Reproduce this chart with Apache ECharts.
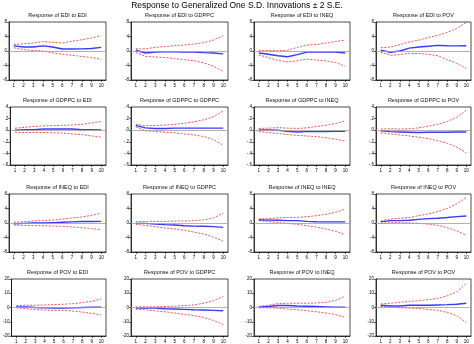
<!DOCTYPE html>
<html>
<head>
<meta charset="utf-8">
<script src="https://cdn.jsdelivr.net/npm/echarts@6/dist/echarts.min.js"></script>
<style>
  html, body { margin: 0; padding: 0; background: #fff; }
  #chart { width: 474px; height: 344px; }
</style>
</head>
<body>
<div id="chart"></div>
<script>
// Horizon (periods after the shock)
const periods = ['1', '2', '3', '4', '5', '6', '7', '8', '9', '10'];

// Variable names, in row / column order
const variables = ['EDI', 'GDPPC', 'INEQ', 'POV'];

// Y-axis scale per response row: [min, max, interval] and tick labels
const rowScale = [[-8, 8, 4], [-0.6, 0.4, 0.2], [-8, 8, 4], [-20, 20, 10]];
const tickLabelsEDI = { '8': '8', '4': '4', '0': '0', '-4': '-4', '-8': '-8' };
const tickLabelsGDPPC = { '0.4': '.4', '0.2': '.2', '0': '.0', '-0.2': '-.2', '-0.4': '-.4', '-0.6': '-.6' };
const tickLabelsINEQ = { '8': '8', '4': '4', '0': '0', '-4': '-4', '-8': '-8' };
const tickLabelsPOV = { '20': '20', '10': '10', '0': '0', '-10': '-10', '-20': '-20' };

// Response of EDI
const ediToEdi = [1.4, 1.1, 1.1, 1.4, 1.1, 0.55, 0.55, 0.6, 0.7, 1.0];
const ediToEdiUp = [1.8, 2.0, 2.2, 2.6, 2.4, 2.2, 2.7, 3.1, 3.6, 4.2];
const ediToEdiLo = [0.9, 0.4, 0.1, 0.0, -0.5, -0.9, -1.2, -1.5, -1.8, -2.3];

const ediToGdppc = [0.2, -0.55, -0.3, -0.2, -0.2, -0.3, -0.3, -0.45, -0.55, -0.8];
const ediToGdppcUp = [0.6, 0.6, 1.0, 1.2, 1.5, 1.65, 1.9, 2.3, 3.0, 4.2];
const ediToGdppcLo = [-0.4, -1.5, -1.65, -1.8, -2.1, -2.4, -2.7, -3.3, -4.2, -5.6];

const ediToIneq = [-0.55, -0.9, -1.3, -1.6, -1.0, -0.3, -0.3, -0.3, -0.3, -0.55];
const ediToIneqUp = [0.2, 0.1, 0.1, 0.2, 1.0, 1.65, 1.8, 2.2, 2.6, 3.0];
const ediToIneqLo = [-1.1, -1.8, -2.6, -3.0, -2.7, -2.2, -2.5, -2.75, -3.2, -4.2];

const ediToPov = [0.2, -0.35, 0.0, 0.8, 1.1, 1.3, 1.55, 1.45, 1.4, 1.45];
const ediToPovUp = [0.9, 1.1, 1.75, 2.5, 3.0, 3.7, 4.3, 5.1, 6.2, 7.9];
const ediToPovLo = [-0.3, -1.2, -1.0, -0.65, -0.7, -0.9, -1.3, -2.4, -3.4, -4.8];

// Response of GDPPC
const gdppcToEdi = [0.0, 0.01, 0.01, 0.02, 0.02, 0.02, 0.02, 0.01, 0.01, 0.005];
const gdppcToEdiUp = [0.035, 0.05, 0.065, 0.075, 0.08, 0.085, 0.09, 0.1, 0.125, 0.15];
const gdppcToEdiLo = [-0.035, -0.04, -0.04, -0.04, -0.045, -0.05, -0.065, -0.075, -0.1, -0.12];

const gdppcToGdppc = [0.08, 0.04, 0.03, 0.03, 0.035, 0.035, 0.035, 0.035, 0.035, 0.035];
const gdppcToGdppcUp = [0.1, 0.075, 0.08, 0.09, 0.1, 0.12, 0.145, 0.18, 0.23, 0.33];
const gdppcToGdppcLo = [0.06, -0.01, -0.02, -0.035, -0.045, -0.065, -0.08, -0.11, -0.16, -0.26];

const gdppcToIneq = [0.005, 0.005, 0.0, -0.02, -0.03, -0.025, -0.025, -0.025, -0.02, -0.02];
const gdppcToIneqUp = [0.03, 0.035, 0.045, 0.035, 0.03, 0.04, 0.065, 0.085, 0.115, 0.16];
const gdppcToIneqLo = [-0.025, -0.04, -0.055, -0.075, -0.09, -0.1, -0.11, -0.13, -0.155, -0.19];

const gdppcToPov = [-0.01, -0.025, -0.03, -0.035, -0.04, -0.035, -0.035, -0.035, -0.03, -0.03];
const gdppcToPovUp = [0.02, 0.025, 0.02, 0.025, 0.04, 0.07, 0.1, 0.15, 0.22, 0.345];
const gdppcToPovLo = [-0.045, -0.065, -0.08, -0.1, -0.12, -0.145, -0.18, -0.225, -0.29, -0.39];

// Response of INEQ
const ineqToEdi = [-0.2, -0.1, 0.0, 0.0, 0.1, 0.2, 0.3, 0.4, 0.4, 0.45];
const ineqToEdiUp = [0.2, 0.35, 0.55, 0.65, 0.8, 1.1, 1.4, 1.65, 2.1, 2.7];
const ineqToEdiLo = [-0.55, -0.65, -0.75, -0.75, -0.85, -0.9, -1.1, -1.3, -1.55, -1.85];

const ineqToGdppc = [-0.1, -0.1, -0.3, -0.45, -0.55, -0.75, -0.85, -0.9, -1.0, -1.2];
const ineqToGdppcUp = [0.3, 0.45, 0.45, 0.45, 0.55, 0.55, 0.65, 0.85, 1.4, 2.7];
const ineqToGdppcLo = [-0.35, -0.65, -1.0, -1.4, -1.65, -2.0, -2.5, -3.05, -3.9, -5.0];

const ineqToIneq = [0.9, 0.8, 0.75, 0.65, 0.65, 0.45, 0.35, 0.3, 0.3, 0.3];
const ineqToIneqUp = [1.1, 1.2, 1.4, 1.5, 1.55, 1.75, 2.0, 2.4, 2.95, 3.8];
const ineqToIneqLo = [0.65, 0.4, 0.1, -0.1, -0.35, -0.75, -1.1, -1.65, -2.3, -3.2];

const ineqToPov = [0.3, 0.65, 0.65, 0.75, 1.0, 1.2, 1.3, 1.5, 1.75, 1.95];
const ineqToPovUp = [0.55, 1.1, 1.3, 1.5, 2.05, 2.5, 3.15, 4.0, 5.3, 7.0];
const ineqToPovLo = [-0.1, 0.1, 0.1, 0.0, -0.1, -0.3, -0.65, -1.3, -2.15, -3.4];

// Response of POV
const povToEdi = [0.45, 0.45, 0.0, -0.25, -0.45, -0.45, -0.25, 0.0, 0.2, 0.2];
const povToEdiUp = [1.4, 1.6, 1.6, 1.8, 2.0, 2.3, 2.7, 3.4, 4.3, 6.0];
const povToEdiLo = [-0.2, -0.9, -1.4, -1.8, -2.0, -2.0, -2.5, -3.2, -4.1, -5.2];

const povToGdppc = [-0.45, -0.45, -0.45, -0.9, -1.1, -1.35, -1.6, -1.8, -2.0, -2.3];
const povToGdppcUp = [0.45, 0.45, 0.45, 0.7, 0.9, 1.35, 1.8, 3.0, 4.8, 7.7];
const povToGdppcLo = [-1.1, -1.6, -2.3, -3.0, -3.9, -4.8, -5.7, -7.0, -9.1, -12.0];

const povToIneq = [0.2, 0.7, 1.4, 1.4, 1.1, 0.9, 0.7, 0.45, 0.2, 0.2];
const povToIneqUp = [0.7, 1.6, 2.7, 3.0, 3.0, 3.0, 3.2, 3.6, 5.0, 8.0];
const povToIneqLo = [-0.2, -0.2, -0.45, -1.1, -1.6, -2.3, -3.0, -3.9, -5.0, -6.8];

const povToPov = [1.6, 1.1, 1.1, 1.6, 1.6, 1.6, 1.8, 2.0, 2.3, 3.0];
const povToPovUp = [2.5, 3.0, 3.6, 4.3, 4.8, 5.5, 6.4, 8.2, 10.9, 17.0];
const povToPovLo = [0.7, 0.2, -0.2, -0.45, -0.7, -1.4, -2.0, -3.4, -5.7, -10.7];

// Panels in reading order: [response, upper band, lower band]
const panels = [
  [ediToEdi, ediToEdiUp, ediToEdiLo], [ediToGdppc, ediToGdppcUp, ediToGdppcLo],
  [ediToIneq, ediToIneqUp, ediToIneqLo], [ediToPov, ediToPovUp, ediToPovLo],
  [gdppcToEdi, gdppcToEdiUp, gdppcToEdiLo], [gdppcToGdppc, gdppcToGdppcUp, gdppcToGdppcLo],
  [gdppcToIneq, gdppcToIneqUp, gdppcToIneqLo], [gdppcToPov, gdppcToPovUp, gdppcToPovLo],
  [ineqToEdi, ineqToEdiUp, ineqToEdiLo], [ineqToGdppc, ineqToGdppcUp, ineqToGdppcLo],
  [ineqToIneq, ineqToIneqUp, ineqToIneqLo], [ineqToPov, ineqToPovUp, ineqToPovLo],
  [povToEdi, povToEdiUp, povToEdiLo], [povToGdppc, povToGdppcUp, povToGdppcLo],
  [povToIneq, povToIneqUp, povToIneqLo], [povToPov, povToPovUp, povToPovLo]
];
const rowTickLabels = [tickLabelsEDI, tickLabelsGDPPC, tickLabelsINEQ, tickLabelsPOV];

// Panel geometry
const colLeft = [9, 131, 254, 376];
const colWidth = [97, 97, 96, 95];
const rowTop = [22, 107, 194, 279];
const plotHeight = 58;

const FONT = 'Liberation Sans, Arial, sans-serif';
const grids = [], xAxes = [], yAxes = [], series = [], titles = [];

titles.push({
  text: 'Response to Generalized One S.D. Innovations \u00b1 2 S.E.',
  left: 'center', top: 1, padding: 0,
  textStyle: { fontFamily: FONT, fontSize: 8.5, fontWeight: 'normal', color: '#000' }
});

for (let r = 0; r < 4; r++) {
  for (let c = 0; c < 4; c++) {
    const i = r * 4 + c;
    const [mn, mx, step] = rowScale[r];
    const labels = rowTickLabels[r];
    grids.push({
      left: colLeft[c], top: rowTop[r], width: colWidth[c], height: plotHeight,
      show: true, borderColor: '#000', borderWidth: 0.7, backgroundColor: '#fff'
    });
    titles.push({
      text: 'Response of ' + variables[r] + ' to ' + variables[c],
      left: colLeft[c] + colWidth[c] / 2, top: rowTop[r] - 10, textAlign: 'center', padding: 0,
      textStyle: { fontFamily: FONT, fontSize: 5.5, fontWeight: 'normal', color: '#111' }
    });
    xAxes.push({
      type: 'category', gridIndex: i, data: periods, boundaryGap: true,
      axisLine: { show: true, onZero: false, lineStyle: { color: '#000', width: 0.7 } },
      axisTick: { show: true, alignWithLabel: true, length: 2, lineStyle: { color: '#000', width: 0.6 } },
      axisLabel: { fontFamily: FONT, fontSize: 4.5, color: '#000', margin: 3 },
      splitLine: { show: false }
    });
    yAxes.push({
      type: 'value', gridIndex: i, min: mn, max: mx, interval: step,
      axisLine: { show: true, lineStyle: { color: '#000', width: 0.7 } },
      axisTick: { show: true, length: 2, lineStyle: { color: '#000', width: 0.6 } },
      axisLabel: {
        fontFamily: FONT, fontSize: 4.5, color: '#000', margin: 2,
        formatter: v => labels[String(Math.round(v * 10) / 10)] ?? String(v)
      },
      splitLine: { show: false }
    });
    const [resp, up, lo] = panels[i];
    series.push({
      type: 'line', xAxisIndex: i, yAxisIndex: i, data: up, symbol: 'none',
      lineStyle: { color: '#ff3b3b', width: 0.9, type: [2, 1.5] }, silent: true, z: 3
    });
    series.push({
      type: 'line', xAxisIndex: i, yAxisIndex: i, data: lo, symbol: 'none',
      lineStyle: { color: '#ff3b3b', width: 0.9, type: [2, 1.5] }, silent: true, z: 3
    });
    series.push({
      type: 'line', xAxisIndex: i, yAxisIndex: i, data: resp, symbol: 'none',
      lineStyle: { color: '#3838ff', width: 1.4 }, silent: true, z: 4,
      markLine: {
        silent: true, symbol: 'none', label: { show: false },
        lineStyle: { color: '#a0a0a0', width: 0.8, type: 'solid' },
        data: [{ yAxis: 0 }], animation: false
      }
    });
  }
}

const chart = echarts.init(document.getElementById('chart'), null, { renderer: 'canvas' });
chart.setOption({
  animation: false,
  backgroundColor: '#fff',
  title: titles,
  grid: grids,
  xAxis: xAxes,
  yAxis: yAxes,
  series: series
});
</script>
</body>
</html>
